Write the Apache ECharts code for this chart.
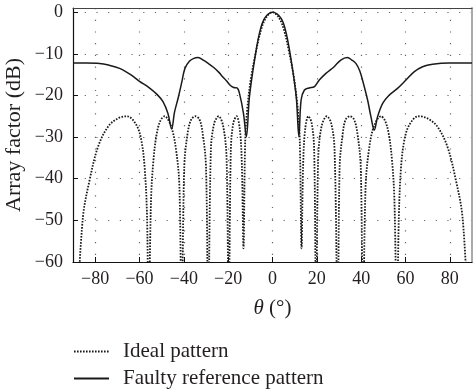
<!DOCTYPE html>
<html>
<head>
<meta charset="utf-8">
<script src="https://cdn.jsdelivr.net/npm/echarts@6/dist/echarts.min.js"></script>
<style>
html,body{margin:0;padding:0;background:#fff;}
#chart{width:474px;height:392px;}
</style>
</head>
<body>
<div id="chart"></div>
<script>
// ---- Data ----
var xTicks = [-80, -60, -40, -20, 0, 20, 40, 60, 80];
var yTicks = [-60, -50, -40, -30, -20, -10, 0];

var idealTheta = [
  -87.9, -85.5, -82.5, -78.7, -74.2, -69.7, -65.6, -61.4, -59.2, -57.7, -56.6, -55.9,
  -54.8, -53.7, -52.2, -50.5, -48.7, -45.7, -43.5, -42.0, -41.0,
  -39.8, -38.3, -36.7, -34.8, -32.9, -31.5, -30.0, -29.0,
  -27.8, -26.3, -24.3, -22.2, -20.7, -19.8,
  -18.8, -17.7, -16.2, -14.7, -13.8, -13.1,
  -12.3, -11.3, -9.6, -7.3, -5.2, -3.0, 0,
  3.0, 5.2, 7.3, 9.6, 11.3, 12.3,
  13.1, 13.8, 14.7, 16.2, 17.7, 18.8,
  19.7, 20.6, 22.1, 24.5, 26.5, 28.0,
  29.4, 30.3, 31.7, 33.0, 34.9, 36.8, 38.3, 39.8,
  40.8, 42.0, 43.5, 45.7, 48.9, 50.7, 52.4, 53.9, 55.0,
  56.1, 57.0, 58.0, 59.5, 61.7, 65.8, 69.9, 74.4, 78.9, 82.7, 85.7, 88.0
];
var idealDb = [
  -70, -49.1, -40.3, -32.3, -27.5, -25.5, -25.0, -27.1, -30.7, -37.1, -49.1, -75,
  -45.1, -35.5, -29.1, -26.0, -25.0, -27.5, -33.1, -41.9, -75,
  -37.1, -29.1, -25.8, -25.0, -25.8, -29.1, -37.1, -75,
  -33.1, -26.7, -25.0, -27.5, -35.5, -75,
  -33.1, -26.7, -25.0, -28.3, -37.1, -56.7,
  -30.7, -22.7, -15.5, -9.1, -4.3, -1.4, 0,
  -1.4, -4.3, -9.1, -15.5, -22.7, -30.7,
  -56.7, -37.1, -28.3, -25.0, -26.7, -33.1,
  -75, -35.5, -27.5, -25.0, -26.7, -33.1,
  -75, -37.1, -29.1, -25.8, -25.0, -25.8, -29.1, -37.1,
  -75, -41.9, -33.1, -27.5, -25.0, -26.0, -29.1, -35.5, -45.1,
  -75, -49.1, -37.1, -30.7, -27.1, -25.0, -25.5, -27.5, -32.3, -40.3, -49.1, -70
];

var faultyTheta = [
  -90, -84, -78, -74, -69, -64, -60, -56, -52, -49.4, -47.2, -45.5,
  -44.2, -42.5, -41, -39.5, -37.5, -35.5, -33.6, -31, -29, -26.5, -24.3, -22.5,
  -20.9, -19, -17.5, -16, -14.9, -13.1, -11.8, -10.4, -8.1, -5.9, -3.6, 0,
  3.9, 6.2, 8.4, 10.7, 11.9, 12.9, 14.4, 16.5, 18.9, 21.1, 24.1, 27.8, 30.8,
  33.8, 35.8, 37.6, 39.3, 40.6, 42.9, 44.4, 45.9, 47.4, 49.7, 52.7, 56.4,
  60.2, 64, 67.7, 72.2, 79.7, 90
];
var faultyDb = [
  -12.2, -12.2, -12.3, -12.7, -13.5, -15.0, -16.6, -18.0, -19.8, -21.5, -24.3, -28.0,
  -24.0, -20.5, -17.0, -13.5, -11.8, -11.1, -10.9, -11.6, -12.3, -13.3, -14.4, -15.5,
  -16.4, -17.6, -18.1, -18.2, -19.5, -24.3, -29.9, -20.3, -11.5, -5.1, -1.5, 0,
  -1.5, -5.1, -11.5, -20.3, -29.9, -21.1, -18.7, -18.2, -17.9, -16.3, -14.7, -13.1, -11.5,
  -10.9, -11.5, -12.3, -14.0, -16.3, -21.1, -25.1, -28.3, -25.1, -21.9, -19.9, -18.3,
  -16.3, -14.3, -13.1, -12.5, -12.2, -12.2
];

var seriesNames = ['Ideal pattern', 'Faulty reference pattern'];

function zip(a, b) { return a.map(function (v, i) { return [v, b[i]]; }); }
function fmt(v) { return String(v).replace('-', '\u2212'); }

var FONT = '"Liberation Serif", "Times New Roman", serif';
var TXT = '#231f20';

var chart = echarts.init(document.getElementById('chart'), null, {renderer: 'canvas'});
chart.setOption({
  animation: false,
  backgroundColor: '#fff',
  textStyle: {fontFamily: FONT},
  grid: {left: 73, right: 2, top: 8, bottom: 130, containLabel: false, outerBoundsMode: 'none'},
  legend: {
    orient: 'vertical',
    left: 73, top: 341,
    padding: 0,
    itemWidth: 35, itemHeight: 14, itemGap: 6,
    data: seriesNames,
    itemStyle: {opacity: 0},
    textStyle: {fontFamily: FONT, fontSize: 21, color: TXT, padding: [0, 0, 0, 9]}
  },
  xAxis: [{
    type: 'value', min: -90, max: 90,
    name: '{i|\u03b8} (\u00b0)',
    nameLocation: 'middle', nameGap: 36,
    nameMoveOverlap: false,
    nameTextStyle: {fontFamily: FONT, fontSize: 21, color: TXT,
      rich: {i: {fontFamily: FONT, fontSize: 21, fontStyle: 'italic', color: TXT}}},
    axisLine: {show: true, onZero: false, lineStyle: {color: '#111', width: 1.2}},
    axisTick: {show: true, inside: true, length: 5, customValues: xTicks, lineStyle: {color: '#111'}},
    axisLabel: {customValues: xTicks, margin: 8, fontFamily: FONT, fontSize: 18, color: TXT, formatter: fmt},
    splitLine: {show: true, lineStyle: {color: '#666', width: 1.2, type: [1.2, 10.5]}}
  }, {
    type: 'value', min: -90, max: 90, position: 'top',
    axisLine: {show: true, onZero: false, lineStyle: {color: '#444', width: 1}},
    axisTick: {show: false}, axisLabel: {show: false}, splitLine: {show: false}
  }],
  yAxis: [{
    type: 'value', min: -60, max: 1, interval: 10,
    name: 'Array factor (dB)',
    nameLocation: 'middle', nameGap: 48,
    nameMoveOverlap: false,
    nameTextStyle: {fontFamily: FONT, fontSize: 22, color: TXT},
    axisLine: {show: true, onZero: false, lineStyle: {color: '#111', width: 1.2}},
    axisTick: {show: true, inside: true, length: 5, lineStyle: {color: '#111'}},
    axisLabel: {margin: 10, fontFamily: FONT, fontSize: 18, color: TXT, showMaxLabel: false,
      formatter: function (v) { return (v % 10 === 0) ? fmt(v) : ''; }},
    splitLine: {show: true, lineStyle: {color: '#666', width: 1.2, type: [1.2, 10.5]}}
  }, {
    type: 'value', min: -60, max: 1, position: 'right',
    axisLine: {show: true, onZero: false, lineStyle: {color: '#aaa', width: 2}},
    axisTick: {show: false}, axisLabel: {show: false}, splitLine: {show: false}
  }],
  series: [{
    name: seriesNames[0],
    type: 'line',
    data: zip(idealTheta, idealDb),
    showSymbol: false, symbol: 'none',
    smooth: 0.35,
    clip: true,
    lineStyle: {color: '#1a1a1a', width: 1.8, type: [1.6, 1.4]},
    itemStyle: {color: '#1a1a1a'},
    z: 3
  }, {
    name: seriesNames[1],
    type: 'line',
    data: zip(faultyTheta, faultyDb),
    showSymbol: false, symbol: 'none',
    smooth: 0.35,
    clip: true,
    lineStyle: {color: '#1a1a1a', width: 1.5, type: 'solid'},
    itemStyle: {color: '#1a1a1a'},
    z: 4
  }]
});
</script>
</body>
</html>
